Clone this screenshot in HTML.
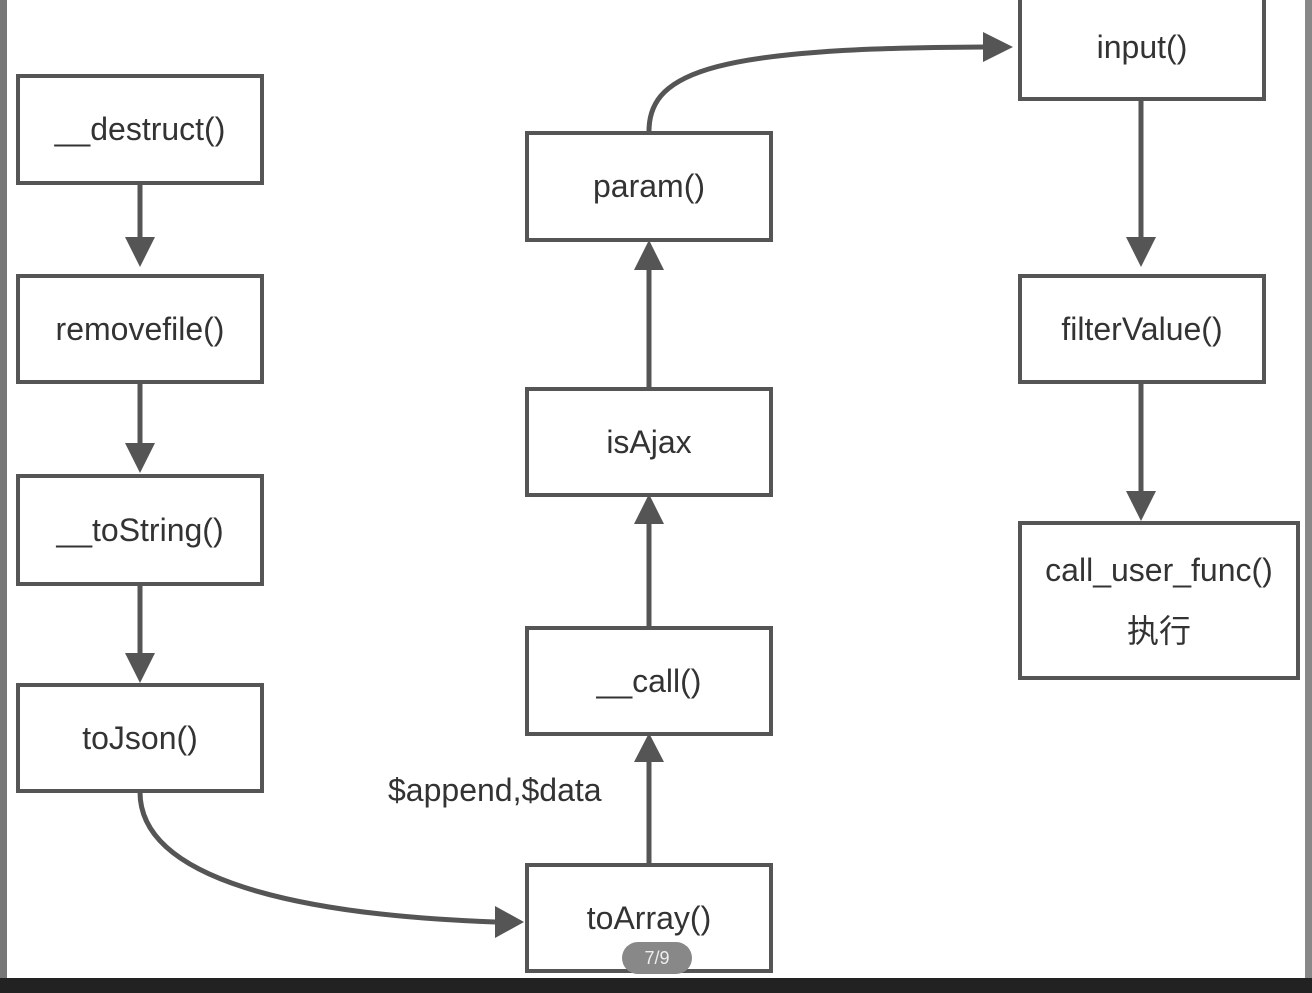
<!DOCTYPE html>
<html><head><meta charset="utf-8"><style>
body{margin:0;width:1312px;height:993px;overflow:hidden;background:#fff;position:relative;font-family:"Liberation Sans","Noto Sans CJK SC",sans-serif}
.b{position:absolute;box-sizing:border-box;border:4px solid #555;background:#fff;display:flex;align-items:center;justify-content:center;text-align:center;font-size:32px;color:#333;line-height:1.9}
</style></head><body>
<div style="position:absolute;left:0;top:0;width:7px;height:993px;background:#777"></div>
<div style="position:absolute;left:1305px;top:0;width:7px;height:993px;background:#888"></div>
<div style="position:absolute;left:0;top:978px;width:1312px;height:15px;background:#222"></div>
<svg width="1312" height="993" style="position:absolute;left:0;top:0">
<g stroke="#555" stroke-width="5" fill="none">
<line x1="140" y1="184" x2="140" y2="240"/>
<line x1="140" y1="383" x2="140" y2="445"/>
<line x1="140" y1="585" x2="140" y2="655"/>
<path d="M140 792 C140 880 300 915 495 922"/>
<line x1="649" y1="863" x2="649" y2="760"/>
<line x1="649" y1="626" x2="649" y2="520"/>
<line x1="649" y1="387" x2="649" y2="268"/>
<path d="M649 131 C649 70 720 48 985 47"/>
<line x1="1141" y1="100" x2="1141" y2="240"/>
<line x1="1141" y1="383" x2="1141" y2="495"/>
</g>
<g fill="#555">
<polygon points="125,237 155,237 140,267"/>
<polygon points="125,443 155,443 140,473"/>
<polygon points="125,653 155,653 140,683"/>
<polygon points="495,906 495,938 524,922"/>
<polygon points="634,762 664,762 649,733"/>
<polygon points="634,524 664,524 649,494"/>
<polygon points="634,270 664,270 649,240"/>
<polygon points="983,32 983,62 1013,47"/>
<polygon points="1126,237 1156,237 1141,267"/>
<polygon points="1126,491 1156,491 1141,521"/>
</g>
</svg>
<div class="b" style="left:16px;top:74px;width:248px;height:111px">__destruct()</div>
<div class="b" style="left:16px;top:274px;width:248px;height:110px">removefile()</div>
<div class="b" style="left:16px;top:474px;width:248px;height:112px">__toString()</div>
<div class="b" style="left:16px;top:683px;width:248px;height:110px">toJson()</div>
<div class="b" style="left:525px;top:863px;width:248px;height:110px">toArray()</div>
<div class="b" style="left:525px;top:626px;width:248px;height:110px">__call()</div>
<div class="b" style="left:525px;top:387px;width:248px;height:110px">isAjax</div>
<div class="b" style="left:525px;top:131px;width:248px;height:111px">param()</div>
<div class="b" style="left:1018px;top:-6px;width:248px;height:107px">input()</div>
<div class="b" style="left:1018px;top:274px;width:248px;height:110px">filterValue()</div>
<div class="b" style="left:1018px;top:521px;width:282px;height:159px">call_user_func()<br>执行</div>
<div style="position:absolute;left:388px;top:772px;font-size:32px;color:#333">$append,$data</div>
<div style="position:absolute;left:622px;top:942px;width:70px;height:32px;border-radius:16px;background:#888;color:#eee;font-size:18px;text-align:center;line-height:32px">7/9</div>
</body></html>
